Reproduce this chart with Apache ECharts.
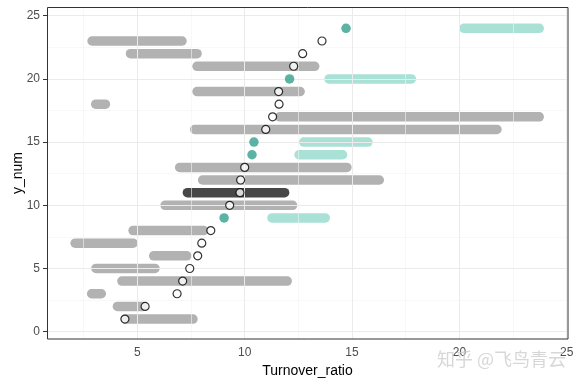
<!DOCTYPE html>
<html><head><meta charset="utf-8">
<script src="https://cdn.jsdelivr.net/npm/echarts@6/dist/echarts.min.js"></script>
<style>html,body{margin:0;padding:0;background:#fff}#c{width:576px;height:384px}</style>
</head><body><div id="c"></div>
<script>
// rows (y_num)
const yNum   = [1,2,3,4,5,6,7,8,9,10,11,12,13,14,15,16,17,18,19,20,21,22,23,24];
const segStart = [4.44,4.07,2.87,4.28,3.07,5.76,2.10,4.80,11.27,6.29,7.33,8.04,6.97,12.53,12.75,7.67,11.63,3.06,7.78,13.93,7.78,4.68,2.89,20.21];
const segEnd   = [7.59,5.26,3.32,11.98,5.82,7.30,4.80,8.09,13.75,12.23,11.86,16.27,14.76,14.56,15.74,21.75,23.72,3.51,12.58,17.76,13.26,7.78,7.08,23.72];
// segment group: g = gray, d = dark, t = teal
const segGroup = ['g','g','g','g','g','g','g','g','t','g','d','g','g','t','t','g','g','g','g','t','g','g','g','t'];
const pointX   = [4.42,5.36,6.85,7.11,7.44,7.81,8.00,8.42,9.04,9.30,9.78,9.81,10.00,10.34,10.43,10.98,11.30,11.60,11.58,12.09,12.28,12.70,13.60,14.72];
// point type: o = open, f = filled teal
const pointType = ['o','o','o','o','o','o','o','o','f','o','o','o','o','f','f','o','o','o','o','f','o','o','o','f'];
const xTicks = [5,10,15,20,25];
const xMinor = [2.5,7.5,12.5,17.5,22.5];
const yTicks = [0,5,10,15,20,25];
const yMinor = [2.5,7.5,12.5,17.5,22.5];

const segColors = {g:'#B2B2B2', d:'#474747', t:'#A9E1D7'};
const segData = yNum.map((y,i)=>[segStart[i], segEnd[i], y, segGroup[i]]);
const openPts = [], fillPts = [];
yNum.forEach((y,i)=>{ (pointType[i]==='o'?openPts:fillPts).push([pointX[i], y]); });

const gridCol = '#EBEBEB';
const chart = echarts.init(document.getElementById('c'), null, {renderer:'canvas'});
const vline = v => ({xAxis:v});
const hline = v => ({yAxis:v});
chart.setOption({
  animation:false,
  grid:{left:47, right:8, top:7, bottom:45, show:false, containLabel:false, outerBoundsMode:'none'},
  xAxis:{type:'value', min:0.79, max:25.06, name:'Turnover_ratio', nameLocation:'middle', nameGap:24,
    nameTextStyle:{fontFamily:'Liberation Sans', fontSize:14, color:'#000'},
    axisLine:{show:false}, splitLine:{show:false},
    axisTick:{show:true, customValues:xTicks, length:4, lineStyle:{color:'#333', width:1}},
    axisLabel:{customValues:xTicks, fontFamily:'Liberation Sans', fontSize:12, color:'#4D4D4D', margin:8}},
  yAxis:{type:'value', min:-0.58, max:25.69, name:'y_num', nameLocation:'middle', nameGap:22, nameMoveOverlap:false,
    nameTextStyle:{fontFamily:'Liberation Sans', fontSize:14, color:'#000'},
    axisLine:{show:false}, splitLine:{show:false},
    axisTick:{show:true, customValues:yTicks, length:4, lineStyle:{color:'#333', width:1}},
    axisLabel:{customValues:yTicks, fontFamily:'Liberation Sans', fontSize:12, color:'#4D4D4D', margin:7}},
  graphic:[
    {type:'rect', shape:{x:47.5, y:7.5, width:520.5, height:331.5}, style:{fill:'none', stroke:'#333', lineWidth:1}, z:100},
    {type:'text', left:437, top:350, style:{text:'知乎 @飞鸟青云', font:'18px "Noto Sans CJK SC"', fill:'rgba(205,205,205,0.8)'}, z:101}
  ],
  series:[
    {type:'line', data:[], silent:true, z:1,
      markLine:{silent:true, symbol:'none', label:{show:false},
        lineStyle:{color:'#F4F4F4', width:0.6, type:'solid'},
        data:[...xMinor.map(vline), ...yMinor.map(hline)]}},
    {type:'line', data:[], silent:true, z:1,
      markLine:{silent:true, symbol:'none', label:{show:false},
        lineStyle:{color:gridCol, width:1, type:'solid'},
        data:[...xTicks.map(vline), ...yTicks.map(hline)]}},
    {type:'custom', data:segData, z:3,
      encode:{x:[0,1], y:2},
      renderItem:(params, api)=>{
        const p1 = api.coord([api.value(0), api.value(2)]);
        const p2 = api.coord([api.value(1), api.value(2)]);
        const g = segData[params.dataIndex][3];
        return {type:'line', shape:{x1:p1[0], y1:p1[1], x2:p2[0], y2:p2[1]},
          style:{stroke:segColors[g], lineWidth:9.5, lineCap:'round'}};
      }},
    {type:'scatter', data:fillPts, symbol:'circle', symbolSize:9.5, z:5,
      itemStyle:{color:'#33A08D', borderWidth:0}},
    {type:'scatter', data:openPts, symbol:'circle', symbolSize:8, z:5,
      itemStyle:{color:'#FFFFFF', borderColor:'#000', borderWidth:1.2}}
  ]
});
</script></body></html>
